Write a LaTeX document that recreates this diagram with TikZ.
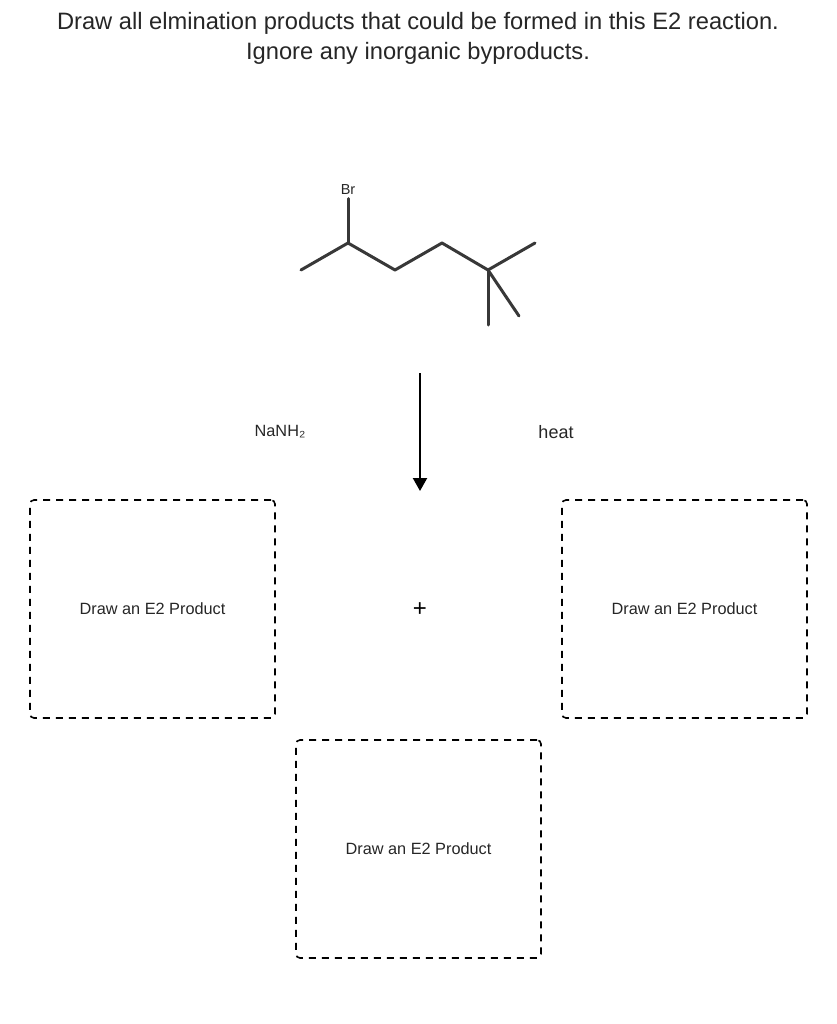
\documentclass[tikz,border=0pt]{standalone}
\usepackage{fontspec}
\setmainfont{Liberation Sans}
\usetikzlibrary{arrows.meta}
\begin{document}
\begin{tikzpicture}[x=1pt,y=-1pt,
  bond/.style={line width=3pt,color=black!78,line cap=round,line join=round},
  dropbox/.style={draw=black,line width=1.6pt,dash pattern=on 7pt off 6pt,rounded corners=4pt},
  lab/.style={font=\fontsize{16.3}{18}\selectfont,text=black!85}]
\useasboundingbox (0,0) rectangle (836,1024);
\node[font=\fontsize{23.7}{27}\selectfont,text=black!85,align=center] (title) at (418,38) {Draw all elmination products that could be formed in this E2 reaction.\\[3pt]Ignore any inorganic byproducts.};
\coordinate (a) at (301,270);
\coordinate (b) at (348,243);
\coordinate (c) at (395,270);
\coordinate (d) at (442,243);
\coordinate (e) at (488,270);
\coordinate (f) at (535,243);
\coordinate (g) at (488,325);
\coordinate (h) at (519,316);
\node[lab,font=\fontsize{14.5}{16}\selectfont] (br) at (348,190) {Br};
\draw[bond] (a)--(b)--(c)--(d)--(e)--(f);
\draw[bond] (e)--(g);
\draw[bond] (e)--(h);
\draw[bond] (b)--(br.south);
\coordinate (as) at (420,373);
\coordinate (ae) at (420,491);
\draw[line width=2.2pt,-{Triangle[length=13pt,width=14pt]}] (as)--(ae);
\node[lab] (r) at (280,432) {NaNH₂};
\node[lab,font=\fontsize{18}{20}\selectfont] (heat) at (556,432) {heat};
\node[dropbox,minimum width=245pt,minimum height=218pt] (b1) at (152.5,609) {};
\node[dropbox,minimum width=245pt,minimum height=218pt] (b2) at (684.5,609) {};
\node[dropbox,minimum width=245pt,minimum height=218pt] (b3) at (418.5,849) {};
\node[lab] at (b1) {Draw an E2 Product};
\node[lab] at (b2) {Draw an E2 Product};
\node[lab] at (b3) {Draw an E2 Product};
\node[font=\fontsize{24}{26}\selectfont] (plus) at (420,610) {+};
\end{tikzpicture}
\end{document}
